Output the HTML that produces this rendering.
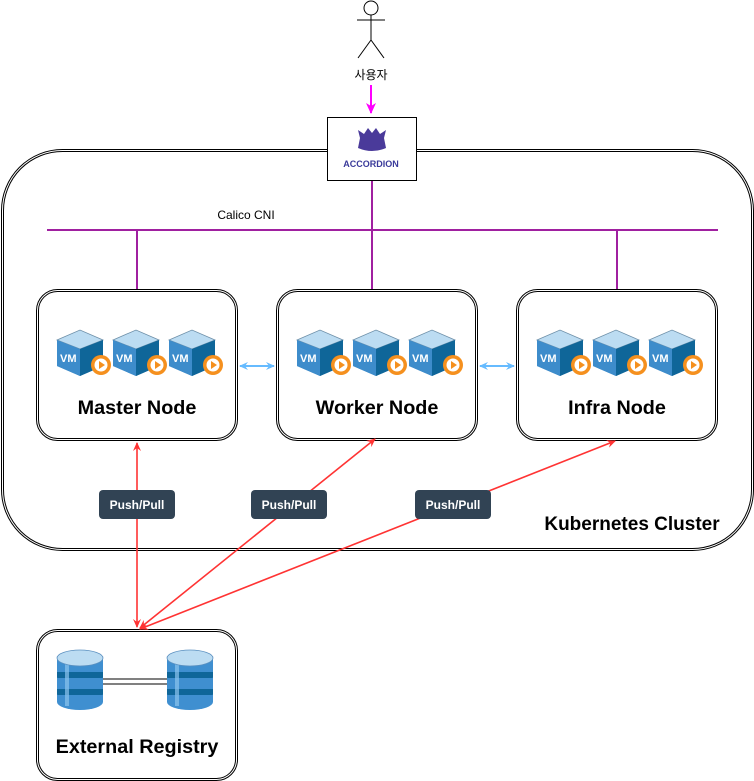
<!DOCTYPE html>
<html><head><meta charset="utf-8"><style>
html,body{margin:0;padding:0;background:#fff;}
svg{display:block;font-family:"Liberation Sans","Noto Sans CJK KR",sans-serif;}
</style></head><body>
<svg width="754" height="781" viewBox="0 0 754 781" xmlns="http://www.w3.org/2000/svg">
<defs>
<g id="vm">
  <polygon points="0,10 23,0 46,10 46,36 23,46 0,36" fill="#2f7fbf"/>
  <polygon points="0,10 23,0 46,10 23,19" fill="#bcdcf2" stroke="#6d8fa8" stroke-width="0.8"/>
  <polygon points="23,19 46,10 46,36 23,46" fill="#0f6699"/>
  <polygon points="0,10 23,19 23,46 0,36" fill="#3d8ccb"/>
  <text x="3" y="32" font-size="11" font-weight="bold" fill="#fff">VM</text>
  <circle cx="44" cy="35" r="10" fill="#f5901e"/>
  <circle cx="44" cy="35" r="6.5" fill="#fff"/>
  <polygon points="42,31 48,35 42,39" fill="#f5901e"/>
</g>
<g id="db">
  <rect x="0" y="8" width="46" height="44" fill="#3f8fd0"/>
  <ellipse cx="23" cy="52" rx="23" ry="8" fill="#3f8fd0"/>
  <path d="M0,22 L46,22 L46,27 a23,6 0 0,1 -46,0 Z" fill="#0f6699"/>
  <rect x="0" y="28" width="46" height="11" fill="#3f8fd0"/>
  <path d="M0,39 L46,39 L46,44 a23,6 0 0,1 -46,0 Z" fill="#0f6699"/>
  <rect x="0" y="45" width="46" height="6" fill="#3f8fd0"/>
  <rect x="8" y="12" width="4" height="44" fill="#8cc3ec" opacity="0.7"/>
  <ellipse cx="23" cy="8" rx="23" ry="8" fill="#bcdcf2" stroke="#5a8fbf" stroke-width="0.8"/>
</g>
<marker id="ar" markerWidth="10" markerHeight="10" refX="8" refY="5" orient="auto-start-reverse" markerUnits="userSpaceOnUse"><path d="M0,1 L9,5 L0,9 L3,5 Z" fill="#ff3333"/></marker>
<marker id="ab" markerWidth="10" markerHeight="10" refX="8" refY="5" orient="auto-start-reverse" markerUnits="userSpaceOnUse"><path d="M0,1 L9,5 L0,9 L3,5 Z" fill="#66bbff"/></marker>
<marker id="am" markerWidth="12" markerHeight="12" refX="10" refY="6" orient="auto" markerUnits="userSpaceOnUse"><path d="M0,1 L11,6 L0,11 L3,6 Z" fill="#ff00ff"/></marker>
</defs>

<!-- cluster (double) -->
<g fill="none" stroke="#000" stroke-width="1">
<rect x="1.5" y="149.5" width="752" height="401" rx="61"/>
<rect x="3.5" y="151.5" width="748" height="397" rx="59"/>
</g>
<text x="632" y="530" text-anchor="middle" font-size="19" font-weight="bold">Kubernetes Cluster</text>

<!-- calico -->
<text x="246" y="219" text-anchor="middle" font-size="12">Calico CNI</text>
<g stroke="#a020a0" stroke-width="2" fill="none">
<line x1="47" y1="230" x2="718" y2="230"/>
<line x1="137" y1="230" x2="137" y2="290"/>
<line x1="372" y1="180" x2="372" y2="290"/>
<line x1="617" y1="230" x2="617" y2="290"/>
</g>

<!-- user -->
<g stroke="#000" stroke-width="1" fill="none">
<circle cx="371" cy="8" r="7" fill="#fff"/>
<line x1="371" y1="15" x2="371" y2="40"/>
<line x1="357" y1="20" x2="385" y2="20"/>
<line x1="371" y1="40" x2="358" y2="58"/>
<line x1="371" y1="40" x2="384" y2="58"/>
</g>
<text x="371" y="79" text-anchor="middle" font-size="12">사용자</text>
<line x1="371" y1="85" x2="371" y2="113" stroke="#ff00ff" stroke-width="2" marker-end="url(#am)"/>

<!-- accordion -->
<rect x="327.5" y="117.5" width="89" height="63" fill="#fff" stroke="#000"/>
<path d="M358,148 L360,138 L358,130 L364,134 L368,128 L372,133 L376,128 L380,134 L386,130 L384,138 L386,148 Q372,154 358,148 Z" fill="#4a3a9a"/>
<text x="371" y="167" text-anchor="middle" font-size="9" font-weight="bold" fill="#3a3a9a">ACCORDION</text>

<!-- nodes (double borders) -->
<g fill="#fff" stroke="#000" stroke-width="1">
<rect x="36.5" y="289.5" width="201" height="151" rx="21"/>
<rect x="38.5" y="291.5" width="197" height="147" rx="19"/>
<rect x="276.5" y="289.5" width="201" height="151" rx="21"/>
<rect x="278.5" y="291.5" width="197" height="147" rx="19"/>
<rect x="516.5" y="289.5" width="201" height="151" rx="21"/>
<rect x="518.5" y="291.5" width="197" height="147" rx="19"/>
<rect x="36.5" y="629.5" width="201" height="151" rx="21"/>
<rect x="38.5" y="631.5" width="197" height="147" rx="19"/>
</g>
<use href="#vm" x="57" y="330"/><use href="#vm" x="113" y="330"/><use href="#vm" x="169" y="330"/>
<use href="#vm" x="297" y="330"/><use href="#vm" x="353" y="330"/><use href="#vm" x="409" y="330"/>
<use href="#vm" x="537" y="330"/><use href="#vm" x="593" y="330"/><use href="#vm" x="649" y="330"/>
<g font-size="19.8" font-weight="bold" text-anchor="middle">
<text x="137" y="414">Master Node</text>
<text x="377" y="414">Worker Node</text>
<text x="617" y="414">Infra Node</text>
<text x="137" y="753">External Registry</text>
</g>

<line x1="240" y1="366" x2="274" y2="366" stroke="#66bbff" stroke-width="2" marker-start="url(#ab)" marker-end="url(#ab)"/>
<line x1="480" y1="366" x2="514" y2="366" stroke="#66bbff" stroke-width="2" marker-start="url(#ab)" marker-end="url(#ab)"/>

<!-- registry -->
<line x1="100" y1="679" x2="170" y2="679" stroke="#000"/>
<line x1="100" y1="684" x2="170" y2="684" stroke="#000"/>
<use href="#db" x="57" y="650"/>
<use href="#db" x="167" y="650"/>

<!-- red arrows -->
<g stroke="#ff3333" stroke-width="1.6" fill="none">
<line x1="137" y1="443" x2="137" y2="627" marker-start="url(#ar)" marker-end="url(#ar)"/>
<line x1="375" y1="439" x2="140" y2="628" marker-start="url(#ar)" marker-end="url(#ar)"/>
<line x1="615" y1="441" x2="140" y2="629" marker-start="url(#ar)" marker-end="url(#ar)"/>
</g>
<g font-size="12" font-weight="bold" fill="#fff" text-anchor="middle">
<rect x="99" y="490" width="76" height="29" rx="4" fill="#314354"/>
<text x="137" y="509">Push/Pull</text>
<rect x="251" y="490" width="76" height="29" rx="4" fill="#314354"/>
<text x="289" y="509">Push/Pull</text>
<rect x="415" y="490" width="76" height="29" rx="4" fill="#314354"/>
<text x="453" y="509">Push/Pull</text>
</g>
</svg>
</body></html>
